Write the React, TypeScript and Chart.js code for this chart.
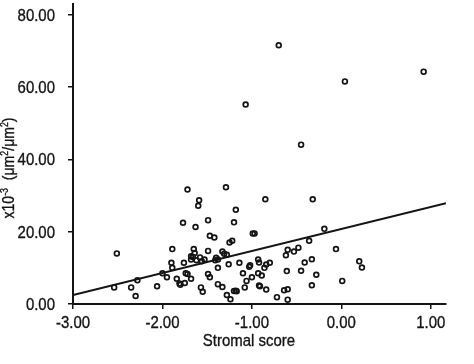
import React, { useEffect, useRef } from "react";
import { Chart, registerables } from "chart.js";

Chart.register(...registerables);

// Stromal score (x) and density x10^-3 (y)
const stromalScore = [
  -0.70, -1.07, 0.04, 0.92, -0.45, -0.32, -1.72, -1.29, -1.59, -1.60,
  -0.85, -1.18, -1.77, -1.49, -1.20, -1.63, -1.47, -1.42, -0.99, -0.97,
  -1.25, -1.22, -0.19, -0.36, -1.89, -1.65, -1.64, -1.66, -1.68, -1.49,
  -1.33, -1.31, -1.28, -0.62, -0.60, -0.53, -0.48, -1.58, -1.53, -1.62,
  -1.56, -1.68, -1.40, -1.38, -1.41, -2.51, -0.06, -1.90, -1.89, -2.00,
  -1.95, -1.76, -1.74, -1.72, -1.26, -1.14, -1.02, -1.03, -0.93, -0.92,
  -0.84, -0.80, -0.86, -0.41, -0.33, 0.20, 0.23, -1.38, -1.49, -1.47,
  -1.10, -1.06, -1.00, -0.93, -0.89, -0.61, -0.45, -0.28, -1.84, -1.68,
  0.01, -2.54, -2.35, -2.28, -2.30, -2.06, -1.81, -1.80, -1.75, -1.57,
  -1.55, -1.38, -1.33, -1.28, -1.24, -1.20, -1.18, -1.17, -1.08, -0.92,
  -0.91, -0.84, -0.72, -0.64, -0.60, -0.60, -0.33,
];
const density = [
  71.6, 55.2, 61.6, 64.3, 44.1, 29.0, 31.7, 32.3, 28.7, 27.2,
  29.0, 26.1, 22.5, 23.2, 22.6, 21.3, 18.9, 18.4, 19.5, 19.5,
  17.0, 17.5, 20.8, 17.5, 15.2, 15.2, 14.1, 13.0, 13.2, 14.7,
  14.5, 13.9, 13.6, 13.5, 15.0, 14.5, 15.6, 12.9, 12.3, 12.1,
  11.8, 12.3, 12.8, 12.3, 12.1, 14.0, 15.2, 11.4, 10.0, 8.5,
  7.4, 11.4, 8.5, 8.3, 11.0, 11.4, 10.7, 10.3, 12.3, 11.5,
  10.9, 11.4, 10.0, 11.5, 12.4, 11.8, 10.1, 10.0, 8.3, 7.4,
  8.5, 6.4, 7.4, 8.5, 7.9, 9.1, 9.2, 8.1, 7.0, 7.0,
  6.4, 4.6, 4.6, 6.6, 2.2, 4.9, 5.7, 5.3, 5.8, 4.6,
  3.4, 5.5, 4.7, 2.5, 1.3, 3.6, 3.7, 3.5, 4.6, 5.1,
  4.9, 4.0, 1.9, 3.8, 4.1, 1.2, 5.2,
];

// Fit line end points
const fitX = [-3.0, 1.17];
const fitY = [2.5, 27.9];

const xTicks = [-3, -2, -1, 0, 1];
const yTicks = [0, 20, 40, 60, 80];
const xRange = [-3, 1.17];
const yRange = [0, 83];

const xTitle = "Stromal score";
const yTitleParts = [
  { t: "x10", sup: false },
  { t: "-3", sup: true },
  { t: "  (\u03BCm", sup: false },
  { t: "2", sup: true },
  { t: "/\u03BCm", sup: false },
  { t: "2", sup: true },
  { t: ")", sup: false },
];

const FONT_FAMILY = "'Liberation Sans', Arial, sans-serif";
const INK = "#141414";
const CONDENSE = 0.88;

function drawCondensed(
  ctx: CanvasRenderingContext2D,
  text: string,
  x: number,
  y: number,
  align: "left" | "center" | "right"
) {
  ctx.save();
  ctx.translate(x, y);
  ctx.scale(CONDENSE, 1);
  ctx.textAlign = align;
  ctx.textBaseline = "alphabetic";
  ctx.fillText(text, 0, 0);
  ctx.strokeText(text, 0, 0);
  ctx.restore();
}

const labelsPlugin = {
  id: "customLabels",
  afterDraw(chart: any) {
    const ctx = chart.ctx as CanvasRenderingContext2D;
    const xs = chart.scales.x;
    const ys = chart.scales.y;
    ctx.save();
    ctx.fillStyle = INK;
    ctx.strokeStyle = INK;
    ctx.lineWidth = 0.35;
    ctx.font = `17px ${FONT_FAMILY}`;

    // tick labels, placed with the library's scales
    for (const v of xTicks) {
      const px = xs.getPixelForValue(v);
      drawCondensed(ctx, v.toFixed(2), px, 328, "center");
    }
    for (const v of yTicks) {
      const py = ys.getPixelForValue(v);
      drawCondensed(ctx, v.toFixed(2), 55, py + 6, "right");
    }

    // x title
    drawCondensed(ctx, xTitle, 249, 346, "center");

    // rotated y title with superscripts
    const big = `16px ${FONT_FAMILY}`;
    const small = `10px ${FONT_FAMILY}`;
    let total = 0;
    for (const p of yTitleParts) {
      ctx.font = p.sup ? small : big;
      total += ctx.measureText(p.t).width;
    }
    ctx.translate(14, 168);
    ctx.rotate(-Math.PI / 2);
    ctx.scale(CONDENSE, 1);
    ctx.textAlign = "left";
    ctx.textBaseline = "alphabetic";
    let x = -total / 2;
    for (const p of yTitleParts) {
      ctx.font = p.sup ? small : big;
      ctx.fillText(p.t, x, p.sup ? -6 : 0);
      ctx.strokeText(p.t, x, p.sup ? -6 : 0);
      x += ctx.measureText(p.t).width;
    }
    ctx.restore();
  },
};

export default function App() {
  const canvasRef = useRef<HTMLCanvasElement | null>(null);

  useEffect(() => {
    if (!canvasRef.current) return;
    const points = stromalScore.map((x, i) => ({ x, y: density[i] }));
    const line = fitX.map((x, i) => ({ x, y: fitY[i] }));

    const chart = new Chart(canvasRef.current, {
      type: "scatter",
      data: {
        datasets: [
          {
            data: points,
            pointRadius: 2.4,
            pointHoverRadius: 2.4,
            borderColor: INK,
            borderWidth: 1.7,
            backgroundColor: "rgba(0,0,0,0)",
            showLine: false,
          },
          {
            data: line,
            showLine: true,
            pointRadius: 0,
            borderColor: INK,
            borderWidth: 2,
            backgroundColor: INK,
          },
        ],
      },
      plugins: [labelsPlugin],
      options: {
        animation: false,
        responsive: false,
        devicePixelRatio: 1,
        layout: { padding: { left: 0, right: 28, top: 0, bottom: 0 } },
        plugins: { legend: { display: false }, tooltip: { enabled: false } },
        scales: {
          x: {
            type: "linear",
            min: xRange[0],
            max: xRange[1],
            afterBuildTicks: (s: any) => {
              s.ticks = xTicks.map((v) => ({ value: v }));
            },
            afterFit: (s: any) => {
              s.height = 60;
            },
            grid: {
              display: true,
              drawOnChartArea: false,
              drawTicks: true,
              tickLength: 5,
              color: INK,
              lineWidth: 1.5,
            },
            border: { display: true, color: INK, width: 2 },
            ticks: { display: false },
          },
          y: {
            type: "linear",
            min: yRange[0],
            max: yRange[1],
            afterBuildTicks: (s: any) => {
              s.ticks = yTicks.map((v) => ({ value: v }));
            },
            afterFit: (s: any) => {
              s.width = 73;
            },
            grid: {
              display: true,
              drawOnChartArea: false,
              drawTicks: true,
              tickLength: 5,
              color: INK,
              lineWidth: 1.5,
            },
            border: { display: true, color: INK, width: 2 },
            ticks: { display: false },
          },
        },
      },
    } as any);

    return () => chart.destroy();
  }, []);

  return (
    <div style={{ position: "absolute", left: 0, top: 0, width: 474, height: 364, background: "#fff" }}>
      <canvas ref={canvasRef} width={474} height={364} style={{ display: "block", width: 474, height: 364 }} />
    </div>
  );
}
